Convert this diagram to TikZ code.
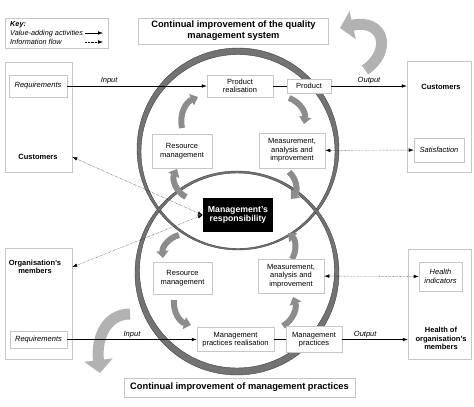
\documentclass[tikz,border=0pt]{standalone}
\usepackage{fontspec}
\setmainfont{Liberation Sans}
\usetikzlibrary{arrows.meta}

\begin{document}
\begin{tikzpicture}[x=1pt,y=-1pt,
    every node/.style={font=\fontsize{7.5}{8.5}\selectfont,inner sep=0pt},
    >={Latex[length=5pt,width=3.5pt]},
    box/.style={draw=black!22,fill=white,align=center,line width=0.5pt},
    it/.style={font=\fontsize{7.5}{8.5}\selectfont\itshape},
    lab/.style={it,inner sep=1.5pt},
    lbl/.style={font=\fontsize{7.5}{8.5}\selectfont\bfseries,align=center},
    title/.style={font=\fontsize{9.3}{11}\selectfont\bfseries},
    ring/.style={fill=black!55,draw=black!75,line width=0.4pt,even odd rule},
    turn/.style={draw=black!45,line width=6pt,-{Triangle[length=7pt,width=12pt]}},
    bigturn/.style={draw=black!30,line width=11pt,-{Triangle[length=13pt,width=28pt]}},
    info/.style={densely dotted,<->}]
    \useasboundingbox (0,0) rectangle (474,407);
    \fill[ring] (238,149) circle[radius=101pt] (238,151.5) circle[radius=97pt];
    \fill[ring] (237,273) circle[radius=102pt] (237,270.5) circle[radius=97.5pt];
    \draw[turn] (182,128) to[bend left=40] (198,97);
    \draw[turn] (289,98) to[bend left=40] (304,124);
    \draw[turn] (289,172) to[bend left=45] (291,199);
    \draw[turn] (186,197) to[bend left=45] (177,169);
    \draw[turn] (179,235) to[bend right=40] (163,258);
    \draw[turn] (174,300) to[bend right=40] (191,325);
    \draw[turn] (283,326) to[bend right=40] (293,297);
    \draw[turn] (292,259) to[bend right=40] (288,233);
    \draw[bigturn] (365,70) .. controls (392,52) and (385,18) .. (340,28);
    \draw[bigturn] (130,314) .. controls (105,314) and (96,340) .. (100,373);
    \node[box,minimum width=103,minimum height=30] (k0) at (56.5,33) {};
    \node[anchor=west,align=left,font=\fontsize{7.3}{9}\selectfont\itshape] (k1) at (10,33) {\textbf{Key:}\\Value-adding activities\\Information flow};
    \coordinate (k2) at (85,33);
    \coordinate (k3) at (103,33);
    \coordinate (k4) at (85,42);
    \coordinate (k5) at (103,42);
    \draw[->] (k2) -- (k3);
    \draw[->,densely dotted] (k4) -- (k5);
    \node[box,title,minimum width=190,minimum height=26] (t1) at (233.5,31) {Continual improvement of the quality\\management system};
    \node[box,minimum width=67,minimum height=110] (v1) at (38.5,117) {};
    \node[box,it,minimum width=58,minimum height=22] (v2) at (38,86) {Requirements};
    \node[lbl] (v3) at (38,157) {Customers};
    \node[box,minimum width=66,minimum height=22] (v4) at (240,86) {Product\\realisation};
    \node[box,minimum width=44,minimum height=14] (v5) at (309,86) {Product};
    \node[box,minimum width=64,minimum height=111] (v6) at (439,116.5) {};
    \node[lbl] (v7) at (441,87) {Customers};
    \node[box,it,minimum width=50,minimum height=24] (v8) at (439,150) {Satisfaction};
    \node[box,minimum width=60,minimum height=34] (v9) at (182,151) {Resource\\management};
    \node[box,minimum width=66,minimum height=35] (v10) at (292,150.5) {Measurement,\\analysis and\\improvement};
    \node[fill=black,text=white,font=\fontsize{8.7}{9.5}\selectfont\bfseries,align=center,minimum width=70,minimum height=34] (v11) at (238,215) {Management's\\responsibility};
    \node[box,minimum width=67,minimum height=111] (v12) at (38.5,303.5) {};
    \node[lbl] (v13) at (35,267) {Organisation's\\members};
    \node[box,it,minimum width=57,minimum height=17] (v14) at (38.5,339.5) {Requirements};
    \node[box,minimum width=59,minimum height=32] (v15) at (182.5,278) {Resource\\management};
    \node[box,minimum width=66,minimum height=34] (v16) at (291,276) {Measurement,\\analysis and\\improvement};
    \node[box,minimum width=77,minimum height=24] (v17) at (235.5,339.5) {Management\\practices realisation};
    \node[box,minimum width=56,minimum height=26] (v18) at (314,339.5) {Management\\practices};
    \node[box,minimum width=63,minimum height=110] (v19) at (439.5,304) {};
    \node[box,it,minimum width=43,minimum height=29] (v20) at (440.5,276.5) {Health\\indicators};
    \node[lbl] (v21) at (441,338.5) {Health of\\organisation's\\members};
    \node[box,title,minimum width=231,minimum height=19] (t2) at (239.5,387.5) {Continual improvement of management practices};
    \draw[->] (v2) edge node[lab,above,pos=0.3] {Input} (v4);
    \draw (v4) -- (v5);
    \draw[->] (v5) edge node[lab,above] {Output} (v5 -| v6.west);
    \draw[info] (v10) -- (v8);
    \coordinate (c1) at (v1.east |- v3);
    \coordinate (c2) at (v12.east |- v13);
    \draw[info] (c1) -- (v11.west);
    \draw[info] (c2) -- (v11.west);
    \draw[->] (v14) edge node[lab,above] {Input} (v17);
    \draw (v17) -- (v18);
    \draw[->] (v18) edge node[lab,above,pos=0.35] {Output} (v18 -| v19.west);
    \draw[info] (v16) -- (v20);
\end{tikzpicture}
\end{document}
